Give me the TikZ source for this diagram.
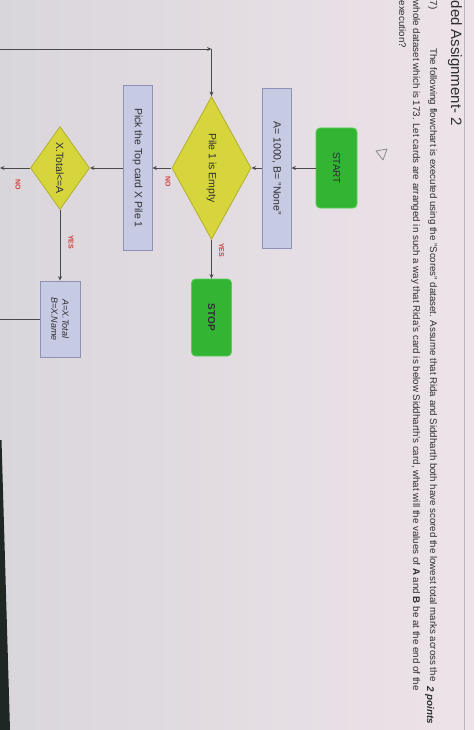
\documentclass[tikz,border=0pt]{standalone}
\usepackage{fontspec}
\setmainfont{Liberation Sans}
\usetikzlibrary{shapes.geometric,arrows.meta}
\definecolor{bgL}{HTML}{D9D6DB}
\definecolor{bgR}{HTML}{EDE3E9}
\definecolor{txt}{HTML}{2E2E33}
\definecolor{boxfill}{HTML}{C7CAE3}
\definecolor{boxline}{HTML}{8E92B5}
\definecolor{grn}{HTML}{33B433}
\definecolor{grnline}{HTML}{5ACB5A}
\definecolor{yel}{HTML}{D6D63C}
\definecolor{yelline}{HTML}{B2AF2C}
\definecolor{wire}{HTML}{4A4A4E}
\definecolor{lblred}{HTML}{D0403C}
\definecolor{bezel}{HTML}{1F2725}
\begin{document}
\begin{tikzpicture}[x=1pt,y=-1pt,
  every node/.style={text=txt},
  hdr/.style={anchor=base west, rotate=-90, inner sep=0pt, font=\fontsize{9.7}{12}\selectfont},
  proc/.style={draw=boxline, fill=boxfill, line width=0.8pt, rotate=-90, inner sep=1pt, font=\fontsize{10.5}{12}\selectfont},
  term/.style={draw=grnline, fill=grn, line width=0.8pt, rounded corners=4pt, rotate=-90, inner sep=1pt, font=\fontsize{10}{12}\selectfont},
  dec/.style={diamond, draw=yelline, fill=yel, line width=0.8pt, rotate=-90, inner sep=0pt, font=\fontsize{10.5}{12}\selectfont},
  wireline/.style={draw=wire, line width=0.8pt},
  arr/.style={wireline, -{Stealth[length=4.5pt,width=4pt]}},
  lbl/.style={rotate=-90, text=lblred, inner sep=0pt, font=\fontsize{7}{8}\selectfont\bfseries}]
\useasboundingbox (0,0) rectangle (474,730);
\shade[left color=bgL, right color=bgR] (0,0) rectangle (474,730);
\draw[color=bgL!85!black, line width=0.6pt] (464,0) -- (464,730);
\fill[bezel] (0,440) -- (1.5,440) -- (10,730) -- (0,730) -- cycle;
% header text
\node[hdr, font=\fontsize{15}{18}\selectfont] (title) at (451,0.5) {ded Assignment- 2};
\node[hdr, font=\fontsize{9.95}{12}\selectfont] (qnum) at (430,0.5) {7)};
\node[hdr] (line1) at (430,48) {The following flowchart is executed using the "Scores" dataset. Assume that Rida and Siddharth both have scored the lowest total marks across the};
\node[hdr, font=\fontsize{9.8}{11}\selectfont\bfseries\itshape] (pts) at (427,686) {2 points};
\node[hdr, font=\fontsize{9.75}{11}\selectfont] (line2) at (413,0.5) {whole dataset which is 173. Let cards are arranged in such a way that Rida's card is below Siddharth's card, what will the values of \textbf{A} and \textbf{B} be at the end of the};
\node[hdr, font=\fontsize{9.75}{11}\selectfont] (line3) at (399,0.5) {execution?};
% cursor
\draw[gray, line width=0.7pt, line join=round] (376,151) -- (387,149) -- (383,160) -- cycle;
% flowchart
\node[term, minimum width=80pt, minimum height=41pt] (start) at (336.5,168) {START};
\node[proc, minimum width=160pt, minimum height=29pt] (abox) at (276.5,168) {A= 1000, B= "None"};
\node[dec, minimum width=143pt, minimum height=57pt] (pile) at (211.5,168) {Pile 1 is Empty};
\node[proc, minimum width=165pt, minimum height=29pt] (pick) at (137.5,168) {Pick the Top card X Pile 1};
\node[dec, minimum width=83pt, minimum height=53pt] (xt) at (60,168) {X.Total<=A};
\node[term, minimum width=77pt, minimum height=40pt, font=\fontsize{10}{12}\selectfont\bfseries] (stop) at (211.5,317.5) {STOP};
\node[proc, minimum width=76pt, minimum height=40pt, align=center, font=\fontsize{9}{11}\selectfont\itshape] (ax) at (60,319) {A=X.Total\\B=X.Name};
\coordinate (loopL) at (0,49);
\coordinate (loopC) at (211.5,49);
\coordinate (noEnd) at (0,168);
\coordinate (axEnd) at (0,319);
\draw[arr] (start) -- (abox);
\draw[arr] (abox) -- (pile);
\draw[arr] (pile) -- node[lbl, xshift=14pt, yshift=6pt] (no1) {NO} (pick);
\draw[arr] (pick) -- (xt);
\draw[arr] (xt) -- node[lbl, xshift=17pt, yshift=3pt] (no2) {NO} (noEnd);
\draw[arr] (pile) -- node[lbl, xshift=-9pt, yshift=10pt] (yes1) {YES} (stop);
\draw[arr] (xt) -- node[lbl, xshift=-3pt, yshift=11pt] (yes2) {YES} (ax);
\draw[wireline] (ax) -- (axEnd);
\draw[arr] (loopL) -- (loopC);
\draw[arr] (loopC) -- (pile);
\end{tikzpicture}
\end{document}
